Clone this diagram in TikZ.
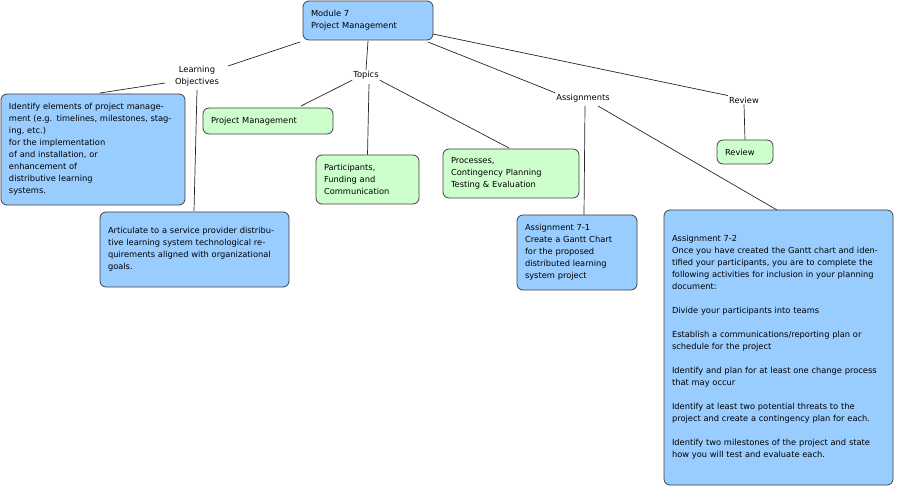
\documentclass[tikz,border=0pt]{standalone}
\usepackage{fontspec}
\setmainfont{DejaVu Sans}
\begin{document}
\begin{tikzpicture}[x=1pt,y=-1pt,
 every node/.style={font=\fontsize{8.3}{12}\selectfont},
 box/.style={draw=black!75,rounded corners=6pt,align=left,inner sep=0pt,line width=0.8pt},
 bb/.style={box,fill=blue1},
 gb/.style={box,fill=green1},
 lab/.style={align=center,inner sep=1pt},
 ln/.style={draw=black!85,line width=0.7pt}]
\definecolor{blue1}{HTML}{99CCFF}
\definecolor{green1}{HTML}{CCFFCC}
\useasboundingbox (0,0) rectangle (897,489);
\newcommand{\bx}[6]{\node[#1,minimum width=#4-#2,minimum height=#5-#3,text width=#4-#2-16] (#6) at ({(#2+#4)/2},{(#3+#5)/2})}
\bx{bb}{303}{1}{433}{40}{mod} {Module 7\\Project Management};
\node[lab] (lo) at (197,76) {Learning\\Objectives};
\node[lab] (top) at (366,75) {Topics};
\node[lab] (asg) at (583,98) {Assignments};
\node[lab] (rev) at (744,100) {Review};
\bx{bb}{1}{94}{185}{205}{lo1} {Identify elements of project management (e.g. timelines, milestones, staging, etc.)\\for the implementation\\of and installation, or\\enhancement of\\distributive learning\\systems.};
\bx{bb}{100}{212}{289}{287}{lo2} {Articulate to a service provider distributive learning system technological requirements aligned with organizational goals.};
\bx{gb}{203}{108}{333}{134}{pm} {Project Management};
\bx{gb}{316}{155}{419}{204}{par} {Participants,\\Funding and\\Communication};
\bx{gb}{443}{149}{579}{198}{pro} {Processes,\\Contingency Planning\\Testing \& Evaluation};
\bx{gb}{717}{140}{773}{164}{revb} {Review};
\bx{bb}{517}{215}{637}{290}{a1} {Assignment 7-1\\Create a Gantt Chart\\for the proposed\\distributed learning\\system project};
\bx{bb}{664}{210}{893}{485}{a2} {Assignment 7-2\\Once you have created the Gantt chart and identified your participants, you are to complete the following activities for inclusion in your planning document:\\[12pt]Divide your participants into teams\\[12pt]Establish a communications/reporting plan or schedule for the project\\[12pt]Identify and plan for at least one change process that may occur\\[12pt]Identify at least two potential threats to the project and create a contingency plan for each.\\[12pt]Identify two milestones of the project and state how you will test and evaluate each.};
\coordinate (m1) at (300,42); \coordinate (l1) at (228,66);
\coordinate (l2) at (165,83); \coordinate (b1) at (100,93);
\coordinate (l3) at (197,90); \coordinate (b2) at (194,211);
\path[ln] (m1) -- (l1) (l2) -- (b1) (l3) -- (b2);
\draw[ln] (368,41) -- (top.north);
\draw[ln] (top.south west) -- (301,106);
\draw[ln] (369,84) -- (par.north);
\draw[ln] (top.south east) -- (509,148);
\draw[ln] (428,42) -- (asg.north west);
\draw[ln] (433,34) -- (rev.north west);
\draw[ln] (585,106) -- (584,215);
\draw[ln] (598,106) -- (777,210);
\draw[ln] (rev.south) -- (revb.north);
\end{tikzpicture}
\end{document}
